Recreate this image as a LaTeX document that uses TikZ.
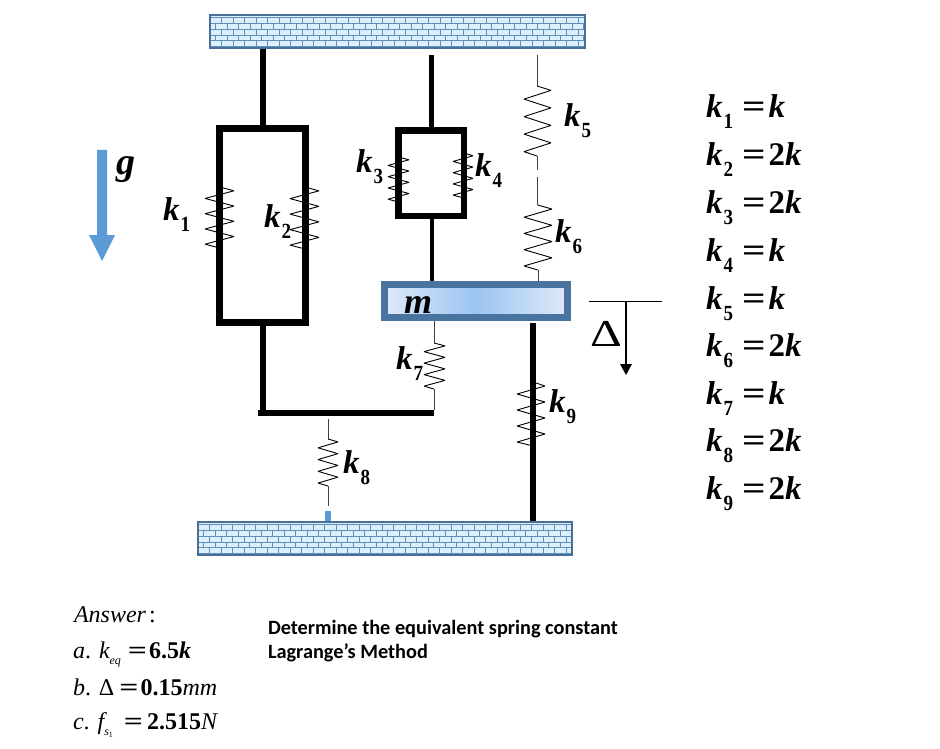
\documentclass[tikz,border=0pt]{standalone}
\usepackage{fontspec}
\usepackage{graphicx}
\setmainfont{Liberation Serif}
\newfontfamily\calib{Carlito}
\definecolor{wallline}{HTML}{5E8FB8}
\definecolor{wallfill}{HTML}{DCEFFA}
\definecolor{walledge}{HTML}{4A7099}
\definecolor{massedge}{HTML}{4A74A0}
\definecolor{massmid}{HTML}{9CC4F2}
\definecolor{massside}{HTML}{DCE8F8}
\definecolor{arrowblue}{HTML}{5B9BD5}
\newcommand{\wallbox}[4]{%
  \begin{scope}
    \clip (#1,#2) rectangle (#3,#4);
    \fill[wallfill] (#1,#2) rectangle (#3,#4);
    \foreach \r in {0,...,5}{
      \pgfmathsetmacro{\yy}{#2+2.6+\r*5.75}
      \pgfmathsetmacro{\yn}{\yy+5.75}
      \draw[brick] (#1,\yy) -- (#3,\yy);
      \pgfmathsetmacro{\off}{mod(\r,2)*5.75}
      \foreach \c in {0,...,33}{
        \pgfmathsetmacro{\xx}{#1+\off+\c*11.5}
        \draw[brick] (\xx,\yy) -- (\xx,\yn);
      }
    }
  \end{scope}
  \draw[walledge] (#1,#2) rectangle (#3,#4);
}
\newcommand{\spr}[5]{%
  \draw[springline] (#1,#2) \foreach \f in {.5,2.5,4.5,6.5}
    {-- (#4,{#2+\f*(#3-#2)/8}) -- (#5,{#2+(\f+1)*(#3-#2)/8})} -- (#1,#3);
}
\newcommand{\bk}{\bfseries\itshape k}
\newcommand{\sbk}[1]{\raisebox{-11pt}{\fontsize{20}{20}\selectfont\bfseries\scalebox{.95}[1.08]{#1}}}
\newcommand{\lk}[1]{{\bk}\hspace{1pt}\sbk{#1}}
\newcommand{\weq}{\scalebox{1.25}[1]{=}}
\newcommand{\aeq}{\scalebox{1.4}[1]{\bfseries =}}
\newcommand{\lv}[2]{\lk{#1}\hspace{9pt}\weq\hspace{3pt}#2}
\tikzset{
  brick/.style={draw=wallline,line width=.65pt},
  walledge/.style={draw=walledge,line width=2pt},
  springline/.style={draw=black,line width=.9pt,line join=bevel},
  thinline/.style={draw=black!75,line width=1pt},
  bar/.style={draw=black,line width=6pt},
  klabel/.style={anchor=base west,inner sep=0pt,outer sep=0pt,font=\fontsize{33}{33}\selectfont},
  listlabel/.style={anchor=base west,inner sep=0pt,outer sep=0pt,font=\fontsize{33}{33}\selectfont\bfseries},
  anslabel/.style={anchor=base west,inner sep=0pt,outer sep=0pt,font=\fontsize{24}{24}\selectfont},
  sanslabel/.style={anchor=base west,inner sep=0pt,outer sep=0pt,font=\calib\fontsize{20.3}{20.3}\selectfont\bfseries},
}
\begin{document}
\begin{tikzpicture}[x=1pt,y=-1pt]
\useasboundingbox (0,0) rectangle (940,749);
\fill[white] (0,0) rectangle (940,749);
% walls
\wallbox{210}{15}{585}{48.5}
\wallbox{198}{522}{572}{554.5}
% left frame
\draw[bar] (263,49) -- (263,128);
\draw[draw=black,line width=7pt,line join=miter] (219.5,128.5) rectangle (305.5,322.5);
\draw[bar] (263,323) -- (263,413);
\draw[bar] (258,413) -- (434,413);
\spr{219.5}{187}{248}{234}{205}
\spr{305}{187}{249}{319}{290}
% middle frame
\draw[draw=black,line width=5pt] (431,55) -- (431,128);
\draw[draw=black,line width=6.5pt,line join=miter] (398.5,130.5) rectangle (464,216);
\draw[draw=black,line width=4.5pt] (432,218) -- (432,282);
\spr{398.5}{157}{202}{409}{388}
\spr{464}{153}{198}{473}{453}
% right chain
\draw[thinline] (537,55) -- (537,86);
\spr{537}{86}{156}{551}{524}
\draw[thinline] (537,156) -- (537,170);
\draw[thinline] (537.7,177) -- (537.7,205);
\spr{537.7}{205}{270}{552}{524}
\draw[thinline] (538,270) -- (538,282);
% mass
\shade[left color=massside,right color=massside,middle color=massmid] (388,288) rectangle (564,314);
\draw[draw=massedge,line width=7pt,line join=miter] (384.5,284.5) rectangle (567.5,317.5);
% lower springs
\draw[thinline] (434,321) -- (434,343);
\spr{434}{343}{389}{445}{424}
\draw[thinline] (434,389) -- (434,410);
\draw[thinline] (328,419) -- (328,439);
\spr{328}{439}{486}{338}{318}
\draw[thinline] (328,486) -- (328,506);
\fill[arrowblue] (325,511) rectangle (331,521);
\draw[bar] (533,323) -- (533,521);
\spr{533}{382}{446}{545}{517}
% gravity arrow
\fill[arrowblue] (97,150) -- (107,150) -- (107,235) -- (115,235) -- (102,261) -- (89,235) -- (97,235) -- cycle;
\node[klabel,font=\fontsize{38}{38}\selectfont] (g) at (116,175) {\bfseries\itshape g};
% Delta marker
\coordinate (dl) at (589,301);
\coordinate (dr) at (662,301);
\coordinate (dt) at (626,301);
\coordinate (db) at (626,364);
\draw[draw=black,line width=1pt] (dl) -- (dr);
\draw[draw=black,line width=1.2pt] (dt) -- (db);
\fill[black] (620,364) -- (632,364) -- (626,375) -- cycle;
\node[klabel,font=\fontsize{38}{38}\selectfont] (delta) at (590,346) {\scalebox{1.3}[1]{Δ}};
% spring labels
\node[klabel] (m) at (404,313) {\fontsize{36}{36}\selectfont\bfseries\itshape m};
\node[klabel] (k1) at (163,220) {\lk{1}};
\node[klabel] (k2) at (264,227) {\lk{2}};
\node[klabel] (k3) at (356,173) {\lk{3}};
\node[klabel] (k4) at (475,177) {\lk{4}};
\node[klabel] (k5) at (564,127) {\lk{5}};
\node[klabel] (k6) at (555,242) {\lk{6}};
\node[klabel] (k7) at (396,369) {\lk{7}};
\node[klabel] (k8) at (343,473) {\lk{8}};
\node[klabel] (k9) at (549,412) {\lk{9}};
% value list
\node[listlabel] (v1) at (706,118) {\lv{1}{\itshape k}};
\node[listlabel] (v2) at (706,166) {\lv{2}{2\itshape k}};
\node[listlabel] (v3) at (706,213) {\lv{3}{2\itshape k}};
\node[listlabel] (v4) at (706,261) {\lv{4}{\itshape k}};
\node[listlabel] (v5) at (706,309) {\lv{5}{\itshape k}};
\node[listlabel] (v6) at (706,356) {\lv{6}{2\itshape k}};
\node[listlabel] (v7) at (706,404) {\lv{7}{\itshape k}};
\node[listlabel] (v8) at (706,451) {\lv{8}{2\itshape k}};
\node[listlabel] (v9) at (706,499) {\lv{9}{2\itshape k}};
% answers
\node[anslabel] (a0) at (74,622) {\itshape Answer\hspace{3pt}\upshape :};
\node[anslabel] (a1) at (73,658) {{\itshape a}. {\itshape k}\raisebox{-6pt}{\fontsize{12}{12}\selectfont\itshape eq}\hspace{7pt}\aeq\hspace{2pt}{\bfseries 6.5\itshape k}};
\node[anslabel] (a2) at (73,695) {{\itshape b}. Δ\hspace{5pt}\aeq\hspace{2pt}{\bfseries 0.15}{\itshape mm}};
\node[anslabel] (a3) at (73,729) {{\itshape c}. {\itshape f}\raisebox{-6pt}{\fontsize{12}{12}\selectfont\itshape s\raisebox{-2pt}{\fontsize{8}{8}\selectfont\upshape 1}}\hspace{11pt}\aeq\hspace{4pt}{\bfseries 2.515}{\itshape N}};
\node[sanslabel] (q1) at (268,634) {Determine the equivalent spring constant};
\node[sanslabel] (q2) at (268,658) {Lagrange’s Method};
\end{tikzpicture}
\end{document}
